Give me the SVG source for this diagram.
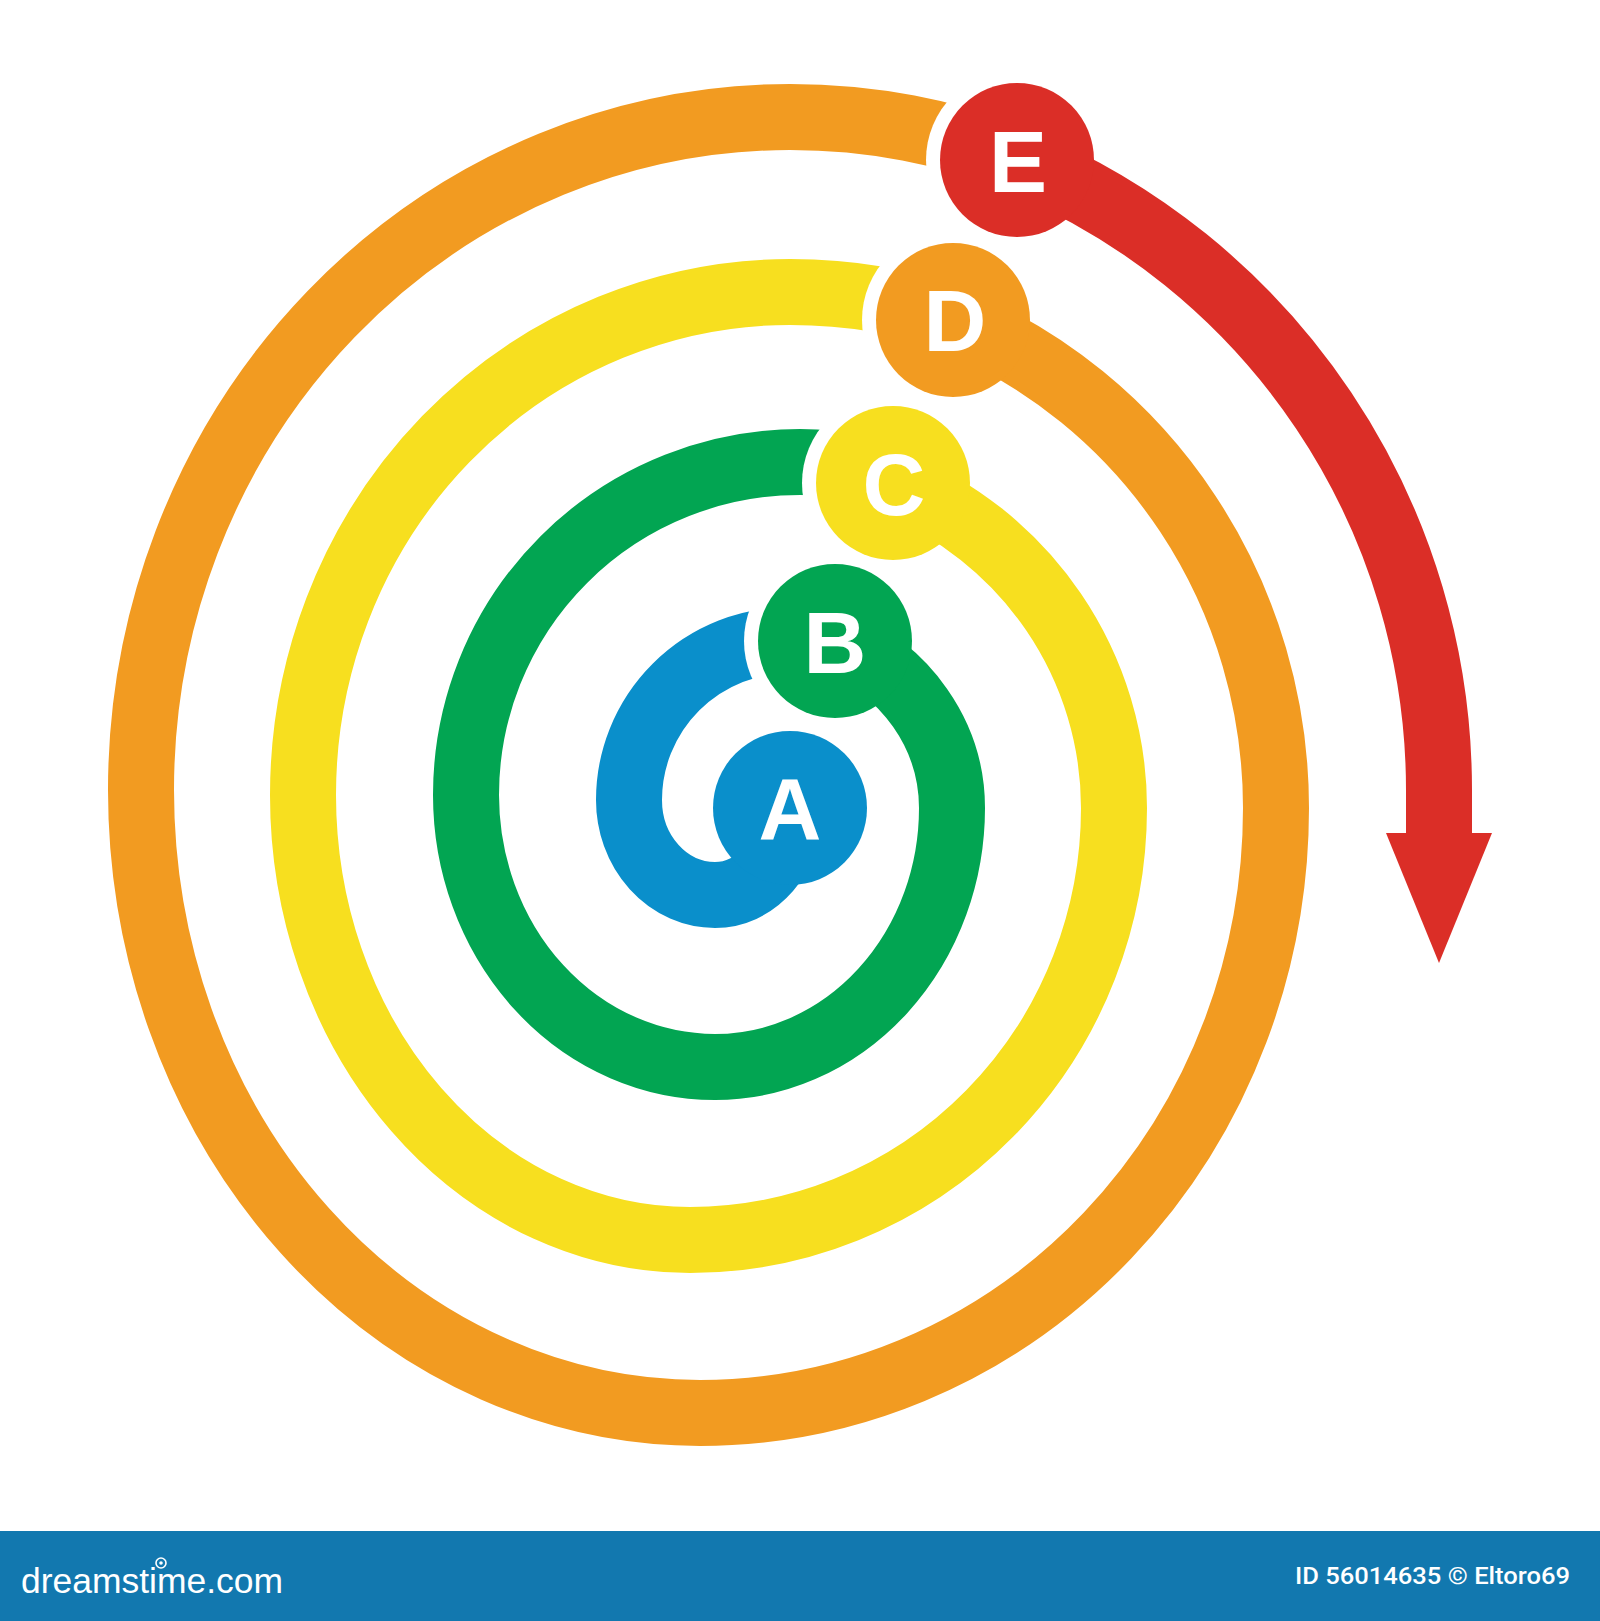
<svg xmlns="http://www.w3.org/2000/svg" width="1600" height="1621" viewBox="0 0 1600 1621">
  <style>
    .band { fill: none; stroke-width: 66; stroke-linecap: butt; stroke-linejoin: round; }
    .letter { font-family: "Liberation Sans", Arial, sans-serif; font-weight: bold; font-size: 87px; fill: #ffffff; text-anchor: middle; }
    .blue { stroke: #0A8FCB; } .green { stroke: #02A552; } .yellow { stroke: #F7DF1F; } .orange { stroke: #F29B21; } .red { stroke: #DB2E27; }
  </style>
  <defs>
    <mask id="gapB" maskUnits="userSpaceOnUse" x="0" y="0" width="1600" height="1621">
      <rect width="1600" height="1621" fill="#fff"/><circle cx="835" cy="641" r="91" fill="#000"/>
    </mask>
    <mask id="gapC" maskUnits="userSpaceOnUse" x="0" y="0" width="1600" height="1621">
      <rect width="1600" height="1621" fill="#fff"/><circle cx="893" cy="483" r="91" fill="#000"/>
    </mask>
    <mask id="gapD" maskUnits="userSpaceOnUse" x="0" y="0" width="1600" height="1621">
      <rect width="1600" height="1621" fill="#fff"/><circle cx="953" cy="320" r="91" fill="#000"/>
    </mask>
    <mask id="gapE" maskUnits="userSpaceOnUse" x="0" y="0" width="1600" height="1621">
      <rect width="1600" height="1621" fill="#fff"/><circle cx="1017" cy="160" r="91" fill="#000"/>
    </mask>
  </defs>
  <rect width="1600" height="1621" fill="#ffffff"/>

  <g id="connectors">
    <path class="band blue" mask="url(#gapB)" d="M 790 808 A 75 87 0 0 1 715 895 A 86 95 0 0 1 629 800 A 161 160 0 0 1 790 640 L 835 641"/>
    <path class="band green" mask="url(#gapC)" d="M 835 641 A 192 181.4 0 0 1 952 808 A 237 259 0 0 1 715 1067 A 249 272 0 0 1 466 795 A 334 333 0 0 1 800 462 C 840 462 870 468 893 483"/>
    <path class="band yellow" mask="url(#gapD)" d="M 893 483 A 354 350.7 0 0 1 1114 808 A 424 432 0 0 1 690 1240 A 387 445 0 0 1 303 795 A 487 503 0 0 1 790 292 C 850 292 910 302 953 320"/>
    <path class="band orange" mask="url(#gapE)" d="M 953 320 A 516 526.2 0 0 1 1276 808 A 576 605 0 0 1 700 1413 A 559 623 0 0 1 141 790 A 649 673 0 0 1 790 117 C 870 117 950 132 1017 160"/>
    <path class="band red" d="M 1017 160 A 679 680.6 0 0 1 1439 790 L 1439 840"/>
    <polygon points="1386,833 1492,833 1439,963" fill="#DB2E27"/>
  </g>

  <g id="node-A">
    <circle cx="790" cy="808" r="77" fill="#0A8FCB"/>
    <text class="letter" x="790" y="839">A</text>
  </g>
  <g id="node-B">
    <circle cx="835" cy="641" r="77" fill="#02A552"/>
    <text class="letter" x="835" y="673">B</text>
  </g>
  <g id="node-C">
    <circle cx="893" cy="483" r="77" fill="#F7DF1F"/>
    <text class="letter" x="894" y="515">C</text>
  </g>
  <g id="node-D">
    <circle cx="953" cy="320" r="77" fill="#F29B21"/>
    <text class="letter" x="955" y="351">D</text>
  </g>
  <g id="node-E">
    <circle cx="1017" cy="160" r="77" fill="#DB2E27"/>
    <text class="letter" x="1018" y="192">E</text>
  </g>

  <g id="footer">
    <rect x="0" y="1531" width="1600" height="90" fill="#1278AF"/>
    <text x="21" y="1593" font-family="Liberation Sans, Arial, sans-serif" font-size="35" fill="#ffffff" textLength="262" lengthAdjust="spacingAndGlyphs">dreamstime.com</text>
    <circle cx="161" cy="1563" r="5" fill="none" stroke="#ffffff" stroke-width="1.6"/>
    <circle cx="161" cy="1563" r="1.8" fill="#ffffff"/>
    <text x="1295" y="1584" font-family="Roboto, 'Liberation Sans', sans-serif" font-weight="500" font-size="24" fill="#ffffff" textLength="275" lengthAdjust="spacingAndGlyphs">ID 56014635 © Eltoro69</text>
  </g>
</svg>
